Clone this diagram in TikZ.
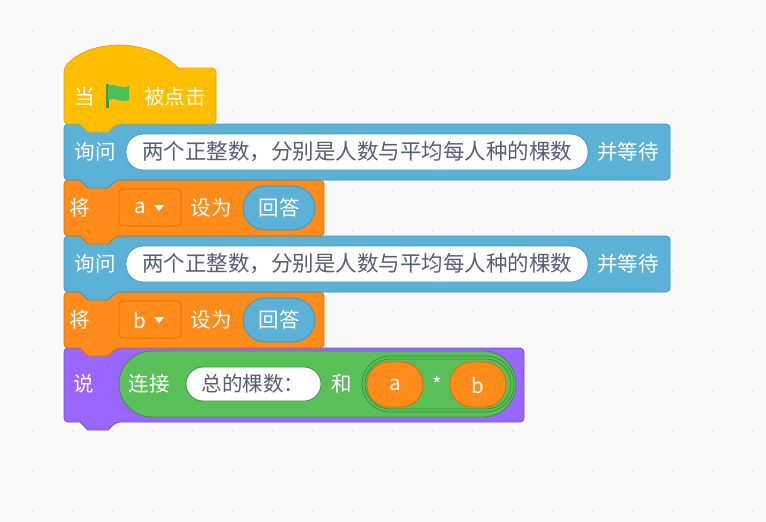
\documentclass[tikz,border=0pt]{standalone}
\usepackage{fontspec}
\setmainfont{Noto Sans CJK SC}
\begin{document}
\begin{tikzpicture}[x=1pt,y=-1pt,
  lbl/.style={text=white,font=\fontsize{20.5}{20.5}\selectfont,inner sep=0pt}]
\definecolor{bg}{HTML}{F9F9F9}
\definecolor{yel}{HTML}{FFBF00}\definecolor{yelb}{HTML}{E6A800}
\definecolor{blu}{HTML}{5CB1D6}\definecolor{blub}{HTML}{3F97BF}
\definecolor{ora}{HTML}{FF8C1A}\definecolor{orab}{HTML}{DB6E00}
\definecolor{pur}{HTML}{9966FF}\definecolor{purb}{HTML}{774DCB}
\definecolor{grn}{HTML}{59C059}\definecolor{grnb}{HTML}{389438}
\definecolor{flg}{HTML}{4CBF56}\definecolor{flgd}{HTML}{45993D}
\definecolor{txt}{HTML}{575E75}
\tikzset{dlbl/.style={text=txt,font=\fontsize{21.5}{21.5}\selectfont,inner sep=0pt}}
\fill[bg] (0,0) rectangle (766,522);
\useasboundingbox (0,0) rectangle (766,522);
\foreach \i in {0,...,19}{\foreach \j in {0,...,13}{
  \fill[black!15] (33+40*\i,31+40*\j) circle (0.9);}}
\newcommand{\blk}[6]{%
 \filldraw[fill=#5,draw=#6,line width=0.8pt,rounded corners=4]
  (#1,#2) -- (#3,#2) -- (#3,#4) -- (#1+52,#4) [sharp corners]-- (#1+44,#4+8) -- (#1+24,#4+8) -- (#1+16,#4) [rounded corners=4]-- (#1,#4) -- cycle;}
\blk{64}{348}{524}{422}{pur}{purb}
\blk{64}{292}{324}{348}{ora}{orab}
\blk{64}{236}{670}{292}{blu}{blub}
\blk{64}{180}{324}{236}{ora}{orab}
\blk{64}{124}{670}{180}{blu}{blub}
\filldraw[fill=yel,draw=yelb,line width=0.8pt,rounded corners=4]
 (64,124) -- (64,68) [sharp corners].. controls (90,38) and (150,38) .. (178,68) [rounded corners=4]-- (216,68) -- (216,124) -- (116,124) [sharp corners]-- (108,132) -- (88,132) -- (80,124) [rounded corners=4]-- cycle;
\node[lbl] (h1) at (85,97) {当};
\node[lbl] (h2) at (175,97) {被点击};
\fill[flgd] (106,84) rectangle (108.5,108);
\fill[flg] (108,86) .. controls (114,82) and (121,90) .. (129,86) -- (129,100) .. controls (121,104) and (114,96) .. (108,100) -- cycle;
\foreach \y in {152,264}{
  \node[lbl] at (95,\y) {询问};
  \draw[fill=white,draw=blub,line width=0.8pt,rounded corners=17] (126,\y-18) rectangle (588,\y+18);
  \node[dlbl] at (357,\y) {两个正整数\makebox[1em]{，}分别是人数与平均每人种的棵数};
  \node[lbl] at (628,\y) {并等待};
}
\foreach \y/\v in {208/a,320/b}{
  \node[lbl] at (80,\y) {将};
  \draw[fill=ora,draw=orab,line width=0.8pt,rounded corners=4] (119,\y-19) rectangle (181,\y+18);
  \node[lbl] at (140,\y) {\v};
  \fill[white] (154,\y-3) -- (164,\y-3) -- (159,\y+3) -- cycle;
  \node[lbl] at (211,\y) {设为};
  \draw[fill=blu,draw=blub,line width=0.8pt,rounded corners=22] (243,\y-22) rectangle (315,\y+22);
  \node[lbl] at (279,\y) {回答};
}
\node[lbl] (s) at (84,384) {说};
\draw[fill=grn,draw=grnb,line width=0.8pt,rounded corners=33] (119,351) rectangle (516,417);
\node[lbl] at (149,384) {连接};
\draw[fill=white,draw=grnb,line width=0.8pt,rounded corners=17] (186,367) rectangle (321,401);
\node[dlbl,font=\fontsize{20.5}{20.5}\selectfont] at (253,384) {总的棵数\makebox[1em]{：}};
\node[lbl] at (342,384) {和};
\draw[fill=grn,draw=grnb,line width=0.8pt,rounded corners=28] (362,356) rectangle (514,412);
\draw[draw=grnb,line width=0.8pt,rounded corners=25] (365,359) rectangle (511,409);
\draw[fill=ora,draw=orab,line width=0.8pt,rounded corners=22] (367,362) rectangle (423,407);
\node[lbl] at (395,385) {a};
\node[lbl] at (437,384) {*};
\draw[fill=ora,draw=orab,line width=0.8pt,rounded corners=22] (450,362) rectangle (506,407);
\node[lbl] at (478,385) {b};
\end{tikzpicture}
\end{document}
